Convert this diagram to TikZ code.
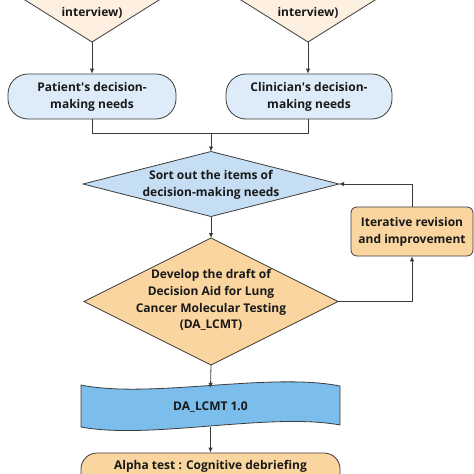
\documentclass[tikz,border=0pt]{standalone}
\usepackage{fontspec}
\setmainfont{Open Sans}
\usetikzlibrary{shapes.geometric,arrows.meta}
\definecolor{peachlight}{HTML}{FDF0E0}
\definecolor{bluebox}{HTML}{DEEBF8}
\definecolor{bluedia}{HTML}{C5DEF4}
\definecolor{orangebox}{HTML}{FAD59F}
\definecolor{wavebl}{HTML}{7BBDEB}
\definecolor{edge}{HTML}{3C3C3C}
\tikzset{
  txt/.style={font=\bfseries\fontsize{12}{16.8}\selectfont, align=center, text=black!90},
  dia/.style={diamond, draw=edge, line width=0.8pt, inner sep=0pt, outer sep=0pt},
  pill/.style={draw=edge, line width=0.8pt, rounded corners=20pt, minimum width=168pt, minimum height=45pt, inner sep=0pt, fill=bluebox},
  conn/.style={draw=edge, line width=0.8pt},
  arr/.style={conn, -{Latex[length=5pt,width=4.5pt]}},
}
\begin{document}
\begin{tikzpicture}[x=1pt,y=-1pt]
\clip (0,0) rectangle (474,474);
\fill[white] (0,0) rectangle (474,474);
% top diamonds (cut off)
\node[dia, fill=peachlight, minimum width=198pt, minimum height=124pt] (ltop) at (92,-20) {};
\node[txt] (ltoptxt) at (92,13) {interview)};
\node[dia, fill=peachlight, minimum width=198pt, minimum height=124pt] (rtop) at (308,-20) {};
\node[txt] (rtoptxt) at (308,13) {interview)};
% pills
\node[pill, txt] (pat) at (92,96.5) {Patient\textquotesingle s decision-\\making needs};
\node[pill, txt, minimum width=166pt] (cli) at (309,96.5) {Clinician\textquotesingle s decision-\\making needs};
% sort diamond
\node[dia, fill=bluedia, minimum width=256pt, minimum height=65pt] (sort) at (211,184) {};
\node[txt] (sorttxt) at (211,185) {Sort out the items of\\decision-making needs};
% develop diamond
\node[dia, fill=orangebox, minimum width=254pt, minimum height=127pt] (dev) at (211,301.5) {};
\node[txt] (devtxt) at (211,300) {Develop the draft of\\Decision Aid for Lung\\Cancer Molecular Testing\\(DA\_LCMT)};
% iterative box
\node[draw=edge, line width=0.8pt, fill=orangebox, rounded corners=6pt, minimum width=122pt, minimum height=49pt, inner sep=0pt, txt] (iter) at (412,231.5) {Iterative revision\\and improvement};
% wave
\filldraw[fill=wavebl, draw=edge, line width=0.8pt]
  (81,385) .. controls (150,399) and (270,372) .. (340,386)
  -- (340,425) .. controls (270,412) and (150,440) .. (81,427) -- cycle;
\node[minimum width=259pt, minimum height=39pt, inner sep=0pt] (wave) at (210.5,407.5) {};
\node[txt] (wavetxt) at (210.5,407) {DA\_LCMT 1.0};
% alpha
\node[draw=edge, line width=0.8pt, fill=orangebox, rounded corners=16pt, minimum width=259pt, minimum height=60pt, inner sep=0pt] (alpha) at (210.5,483) {};
\node[txt] (alphatxt) at (210.5,466) {Alpha test : Cognitive debriefing};
% connectors
\coordinate (join) at (211,133);
\draw[arr] (ltop.south) -- (pat.north);
\draw[arr] (rtop.south) -- (rtop.south |- cli.north);
\draw[conn] (pat.south) |- (join);
\draw[conn] (rtop.south |- cli.south) |- (join);
\draw[arr] (join) -- (sort.north);
\draw[arr] (sort.south) -- (dev.north);
\draw[arr] (dev.east) -| (iter.south);
\draw[arr] (iter.north) |- (sort.east);
\draw[arr] (dev.south) -- (wave.north);
\draw[arr] (wave.south) -- (alpha.north);
\end{tikzpicture}
\end{document}
